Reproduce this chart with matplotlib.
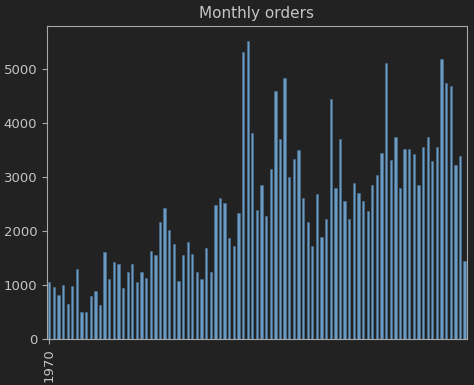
import numpy as np
import pandas as pd
from matplotlib import pyplot as plt

# monthly order counts, Jan 1970 onwards
orders = [1060, 955, 815, 1000, 650, 980, 1295, 505, 505, 795,
          890, 625, 1610, 1110, 1420, 1385, 940, 1245, 1385, 1060,
          1235, 1135, 1630, 1545, 2165, 2420, 2010, 1760, 1075, 1545,
          1790, 1575, 1235, 1110, 1685, 1235, 2480, 2605, 2525, 1860,
          1715, 2325, 5310, 5520, 3820, 2390, 2850, 2280, 3155, 4590,
          3700, 4840, 3005, 3325, 3500, 2605, 2160, 1715, 2680, 1895,
          2220, 4455, 2790, 3700, 2555, 2220, 2890, 2705, 2555, 2370,
          2845, 3035, 3440, 5110, 3310, 3735, 2790, 3520, 3520, 3420,
          2845, 3550, 3745, 3295, 3555, 5180, 4740, 4685, 3230, 3390,
          1445]
months = pd.date_range('1970-01-01', periods=len(orders), freq='MS')

bg = '#222222'
fg = '#c4c4c4'

fig = plt.figure(dpi=100, figsize=(4.74, 3.85), facecolor=bg)
ax = fig.add_axes([0.099, 0.12, 0.886, 0.812], facecolor=bg)

x = np.arange(len(orders))
ax.bar(x, orders, width=0.5, color='#6b9bc3', edgecolor='#4a7599', linewidth=0.4)
ax.set_xlim(-0.5, len(orders) - 0.5)

ax.set_xticks([0])
ax.set_xticklabels([str(months[0].year)], rotation=90)

ax.set_title('Monthly orders', color=fg, fontsize=11)
for s in ax.spines.values():
    s.set_color('#a8a8a8')
ax.tick_params(axis='both', colors='#a8a8a8', labelcolor=fg, labelsize=9.5)

fig.savefig('out.png', facecolor=bg)
